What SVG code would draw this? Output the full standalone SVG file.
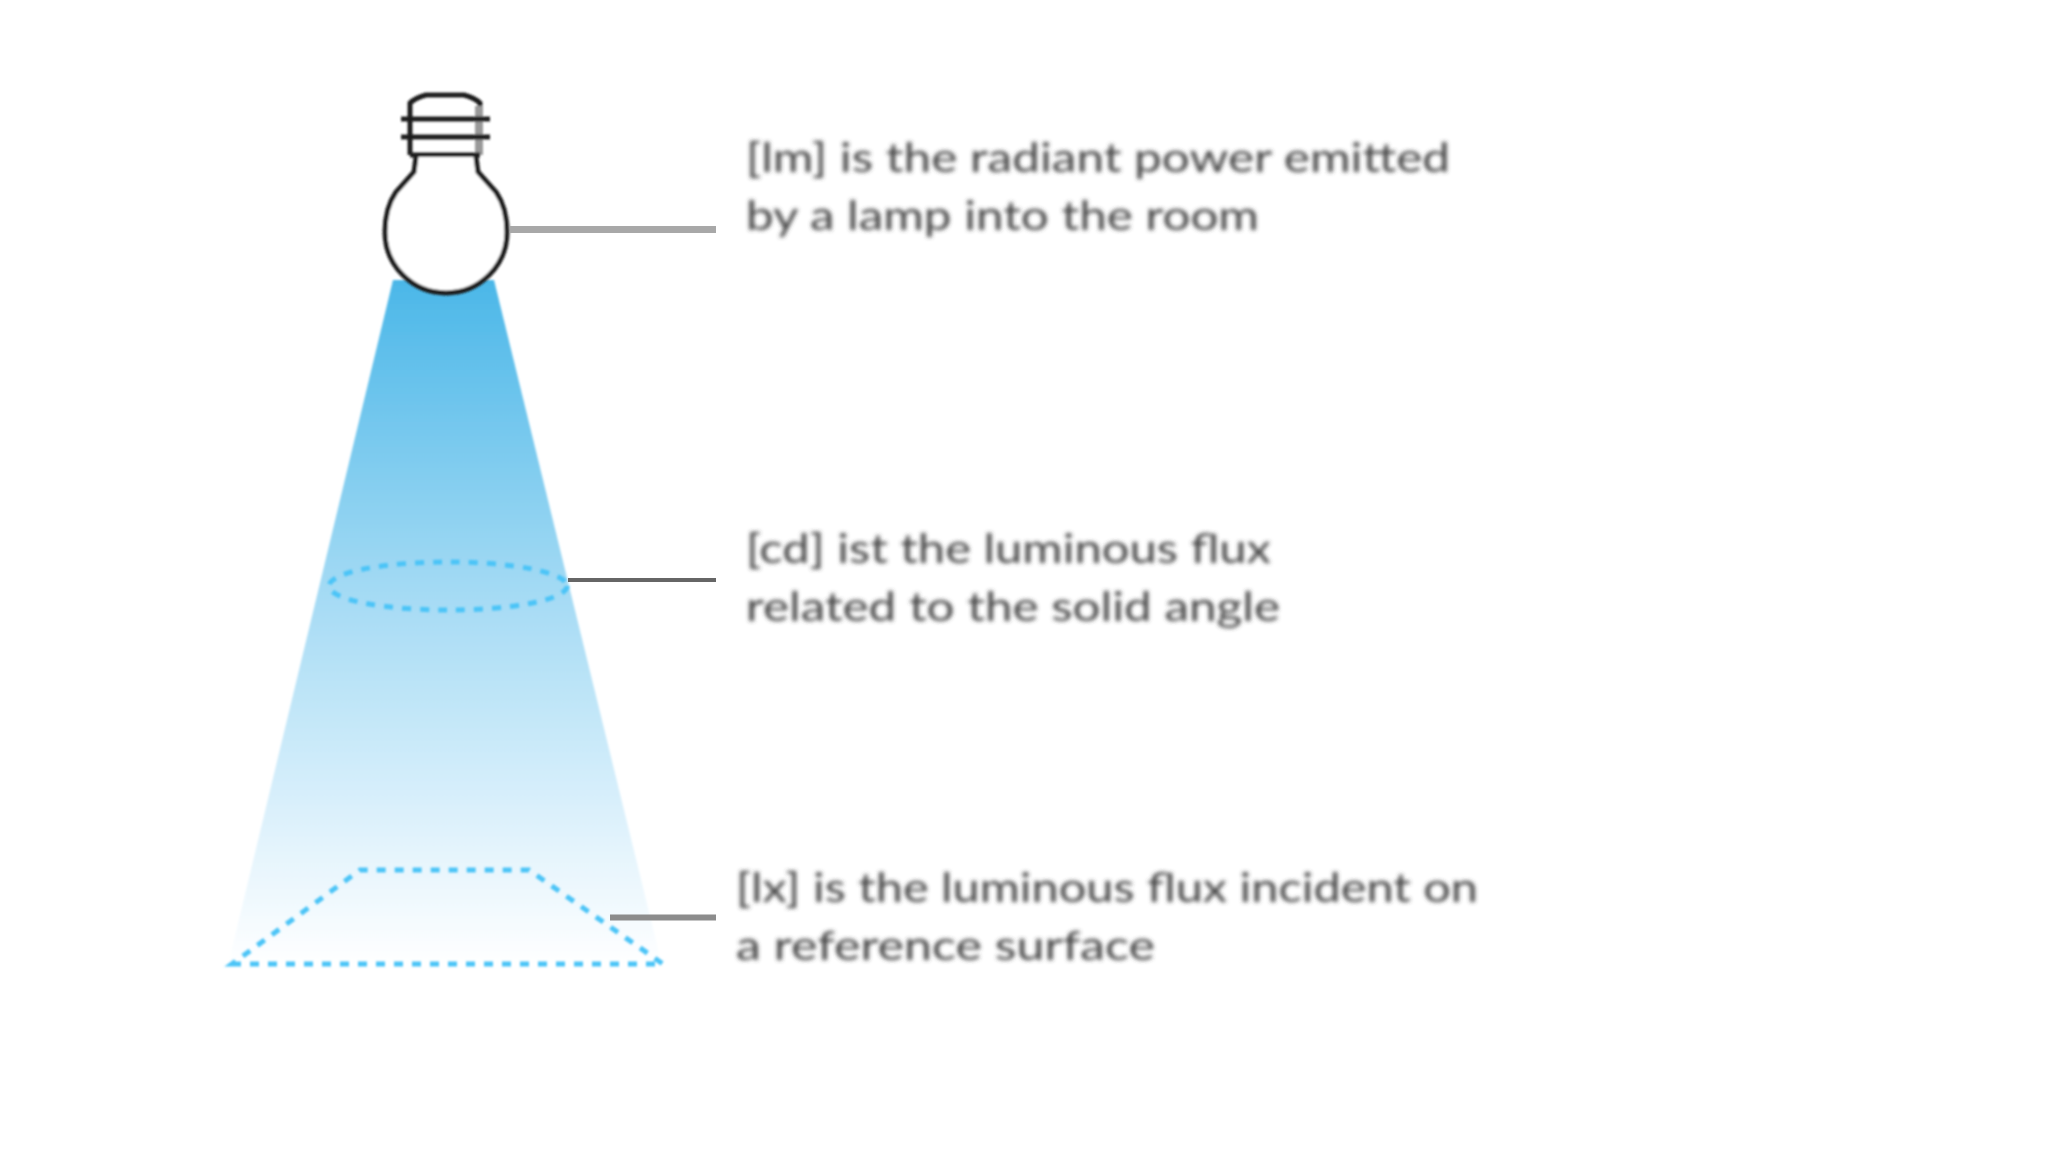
<svg xmlns="http://www.w3.org/2000/svg" width="2048" height="1152" viewBox="0 0 2048 1152">
<style>
.t{font-family:"Lato","Liberation Sans",sans-serif;font-size:40px;fill:#3f3f3f}
.b{fill:none;stroke:#1f1f1f;stroke-width:5}
.d{fill:none;stroke:#4cc4f7;stroke-width:5;stroke-dasharray:9 9}
</style>
<defs>
<linearGradient id="beam" x1="0" y1="0" x2="0" y2="1">
<stop offset="0" stop-color="#4bb7e8"/>
<stop offset=".45" stop-color="#a3daf4"/>
<stop offset=".8" stop-color="#dff2fc"/>
<stop offset="1" stop-color="#ffffff"/>
</linearGradient>
<filter id="soft" x="-5%" y="-30%" width="110%" height="160%"><feGaussianBlur stdDeviation="2"/></filter>
<filter id="soft2" x="-10%" y="-10%" width="120%" height="120%"><feGaussianBlur stdDeviation="1.3"/></filter>
</defs>
<g id="beam-cone"><polygon points="393,280 494,280 662,965 228,965" fill="url(#beam)" filter="url(#soft2)"/></g>
<g id="lamp" filter="url(#soft2)">
<path d="M410,155 V103 Q415,98 426,95 H464 Q475,98 480,103 V155" class="b"/>
<path d="M479,106 V155" fill="none" stroke="#999" stroke-width="8"/>
<path d="M401,119 H490 M401,137 H490 M410,155 H480" class="b"/>
<path d="M416,157 L414,172 L396,192 Q385,208 385,232 A61,61 0 0 0 507,232 Q507,208 496,192 L478,172 L476,157" fill="#fff" stroke="#1f1f1f" stroke-width="5"/>
</g>
<g id="solid-angle"><ellipse cx="448" cy="586" rx="119" ry="24" class="d" filter="url(#soft2)"/></g>
<g id="surface"><path d="M232,964 H663 L529,870 H360 Z" class="d" filter="url(#soft2)"/></g>
<g id="connectors">
<line x1="510" y1="229.500" x2="716" y2="229.500" stroke="#a8a8a8" stroke-width="7"/>
<line x1="568" y1="580" x2="716" y2="580" stroke="#666" stroke-width="4"/>
<line x1="610" y1="917.500" x2="716" y2="917.500" stroke="#8c8c8c" stroke-width="6"/>
</g>
<g id="label-lm" filter="url(#soft)">
<text class="t" x="746" y="172" textLength="704" lengthAdjust="spacingAndGlyphs">[lm] is the radiant power emitted</text>
<text class="t" x="746" y="230" textLength="513" lengthAdjust="spacingAndGlyphs">by a lamp into the room</text>
</g>
<g id="label-cd" filter="url(#soft)">
<text class="t" x="746" y="563" textLength="525" lengthAdjust="spacingAndGlyphs">[cd] ist the luminous flux</text>
<text class="t" x="746" y="621" textLength="534" lengthAdjust="spacingAndGlyphs">related to the solid angle</text>
</g>
<g id="label-lx" filter="url(#soft)">
<text class="t" x="736" y="902" textLength="742" lengthAdjust="spacingAndGlyphs">[lx] is the luminous flux incident on</text>
<text class="t" x="736" y="960" textLength="419" lengthAdjust="spacingAndGlyphs">a reference surface</text>
</g>
</svg>
